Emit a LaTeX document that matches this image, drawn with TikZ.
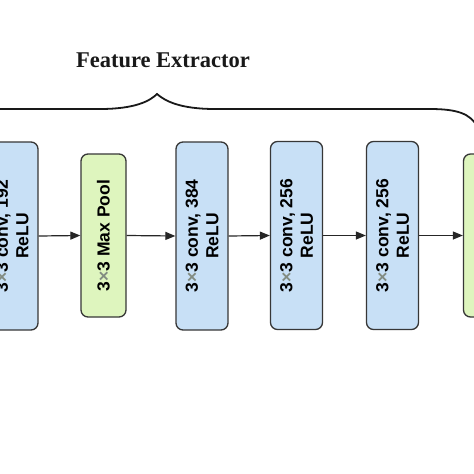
\documentclass[tikz,border=0pt]{standalone}
\usepackage{fontspec}
\setmainfont{Liberation Serif}
\newfontfamily\arialf{Liberation Sans}
\usetikzlibrary{arrows.meta}
\definecolor{convblue}{RGB}{200,224,246}
\definecolor{poolgreen}{RGB}{222,245,190}
\definecolor{edgegray}{RGB}{55,55,55}
\definecolor{timesgray}{RGB}{130,140,130}
\tikzset{
  convbox/.style={draw=edgegray, line width=1.3pt, fill=convblue, rounded corners=7pt,
    minimum width=52pt, minimum height=188pt, inner sep=0pt},
  poolbox/.style={draw=edgegray, line width=1.3pt, fill=poolgreen, rounded corners=7pt,
    minimum width=45pt, minimum height=163pt, inner sep=0pt},
  boxtext/.style={rotate=90, align=center, font=\arialf\bfseries\fontsize{17.5}{20.5}\selectfont, inner sep=0pt},
  flow/.style={draw=black!85, line width=1.2pt, -{Triangle[length=10pt,width=8pt]}}
}
\newcommand{\tx}{{\color{timesgray}\texttimes}}
\begin{document}
\begin{tikzpicture}[x=1pt,y=-1pt]
\useasboundingbox (0,0) rectangle (474,474);
\clip (0,0) rectangle (474,474);
\fill[white] (0,0) rectangle (474,474);
% title
\node[font=\bfseries\fontsize{22.5}{26}\selectfont, text=black!90] (title) at (163,60) {Feature Extractor};
% brace
\draw[line width=1.8pt, black!90] (-5,109) -- (100,109)
  .. controls (135,109) and (150,101) .. (157,94)
  .. controls (165,101) and (180,109) .. (215,109)
  -- (430,109) .. controls (458,109) and (470,114) .. (477,126);
% boxes
\node[convbox] (b1) at (12,236) {};
\node[boxtext] (t1) at (12,236) {3\tx3 conv, 192\\ReLU};
\node[poolbox] (b2) at (103.5,235.5) {};
\node[boxtext] (t2) at (103.5,235.5) {3\tx3 Max Pool};
\node[convbox] (b3) at (202,236) {};
\node[boxtext] (t3) at (202,236) {3\tx3 conv, 384\\ReLU};
\node[convbox] (b4) at (296.5,235.5) {};
\node[boxtext] (t4) at (296.5,235.5) {3\tx3 conv, 256\\ReLU};
\node[convbox] (b5) at (392.5,235.5) {};
\node[boxtext] (t5) at (392.5,235.5) {3\tx3 conv, 256\\ReLU};
\node[poolbox] (b6) at (486,235.5) {};
% arrows
\draw[flow] (b1.east) -- (b2.west);
\draw[flow] (b2.east) -- (b3.west);
\draw[flow] (b3.east) -- (b4.west);
\draw[flow] (b4.east) -- (b5.west);
\draw[flow] (b5.east) -- (b6.west);
\end{tikzpicture}
\end{document}
